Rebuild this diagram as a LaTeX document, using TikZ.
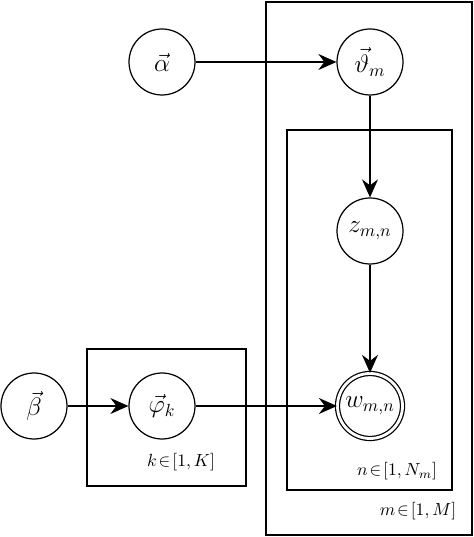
\documentclass[tikz,border=0pt]{standalone}
\usepackage{amsmath, amssymb}
\usetikzlibrary{arrows.meta}

\tikzset{
  var/.style={circle, draw, line width=0.7pt, minimum size=1.32cm, inner sep=0pt, font=\Large},
  obs/.style={var, double, double distance=1.6pt, minimum size=1.3cm},
  plate/.style={draw, line width=0.6pt},
  platelabel/.style={font=\normalsize},
  edge/.style={-{Stealth[length=0.36cm, width=0.32cm, inset=0.12cm]}, line width=0.6pt}
}

\begin{document}
\begin{tikzpicture}
        \useasboundingbox (0, 0) rectangle (9.48, 10.74);

        % plates
        \draw[plate] (5.32, 0.04) rectangle (9.44, 10.70);
        \draw[plate] (5.74, 0.94) rectangle (9.04, 8.14);
        \draw[plate] (1.74, 1.02) rectangle (4.92, 3.76);

        \node[platelabel] at (3.62, 1.50) (kplate) {$k\!\in\![1,K]$};
        \node[platelabel] at (7.94, 1.32) (nplate) {$n\!\in\![1,N_m]$};
        \node[platelabel] at (8.36, 0.52) (mplate) {$m\!\in\![1,M]$};

        % variables
        \node[var] at (3.24, 9.50) (alpha) {$\vec{\alpha}$};
        \node[var] at (7.40, 9.50) (theta) {$\vec{\vartheta}_m$};
        \node[var] at (7.40, 6.12) (z) {$z_{m,n}$};
        \node[obs] at (7.40, 2.62) (w) {$w_{m,n}$};
        \node[var] at (0.68, 2.62) (beta) {$\vec{\beta}$};
        \node[var] at (3.24, 2.62) (phi) {$\vec{\varphi}_k$};

        \draw[edge] (alpha) -- (theta);
        \draw[edge] (theta) -- (z);
        \draw[edge] (z) -- (w);
        \draw[edge] (beta) -- (phi);
        \draw[edge] (phi) -- (w);
    \end{tikzpicture}
\end{document}
